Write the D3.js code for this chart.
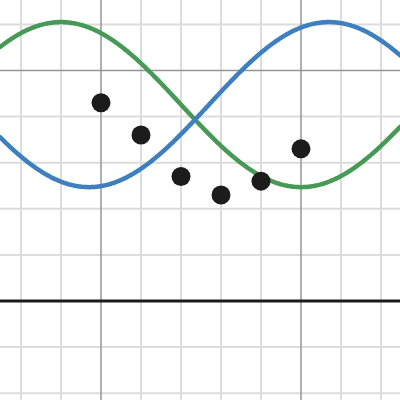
<!DOCTYPE html>
<html>
<head>
<meta charset="utf-8">
<script src="https://cdn.jsdelivr.net/npm/d3@7"></script>
<style>
  html, body { margin: 0; padding: 0; background: #fff; }
  svg { display: block; }
</style>
</head>
<body>
<svg id="canvas"></svg>
<script>
// data
const pointX = [5, 6, 7, 8, 9, 10];
const pointY = [4.3, 3.6, 2.7, 2.3, 2.6, 3.3];

// the two sine curves: centre, amplitude, x of peak, period
const curveNames = ["green", "blue"];
const curveCentre = [4.26, 4.26];
const curveAmp = [1.79, 1.79];
const curvePeak = [4, 10.7];
const curvePeriod = [12, 12];
const curveColor = ["#479a56", "#3e7fbf"];

const width = 400;
const height = 400;

let canvas = d3.select("#canvas").attr("width", width).attr("height", height);

let x = d3.scaleLinear().domain([2.475, 12.475]).range([0, width]);
let y = d3.scaleLinear().domain([-2.147, 6.529]).range([height, 0]);

let drawGrid = () => {
  let xs = d3.range(Math.ceil(x.domain()[0]), Math.floor(x.domain()[1]) + 1);
  let ys = d3.range(Math.ceil(y.domain()[0]), Math.floor(y.domain()[1]) + 1);

  // minor lines first, major on top
  canvas.append("g").selectAll("line")
    .data(xs.filter((d) => d % 5 !== 0))
    .enter().append("line")
    .attr("x1", (d) => x(d)).attr("x2", (d) => x(d))
    .attr("y1", 0).attr("y2", height)
    .attr("stroke", "#dcdcdc").attr("stroke-width", 2);

  canvas.append("g").selectAll("line")
    .data(ys.filter((d) => d % 5 !== 0))
    .enter().append("line")
    .attr("y1", (d) => y(d)).attr("y2", (d) => y(d))
    .attr("x1", 0).attr("x2", width)
    .attr("stroke", "#dcdcdc").attr("stroke-width", 2);

  canvas.append("g").selectAll("line")
    .data(xs.filter((d) => d % 5 === 0 && d !== 0))
    .enter().append("line")
    .attr("x1", (d) => x(d)).attr("x2", (d) => x(d))
    .attr("y1", 0).attr("y2", height)
    .attr("stroke", "#969696").attr("stroke-width", 1.5);

  canvas.append("g").selectAll("line")
    .data(ys.filter((d) => d % 5 === 0 && d !== 0))
    .enter().append("line")
    .attr("y1", (d) => y(d)).attr("y2", (d) => y(d))
    .attr("x1", 0).attr("x2", width)
    .attr("stroke", "#969696").attr("stroke-width", 1.5);

  // x axis
  canvas.append("line")
    .attr("x1", 0).attr("x2", width)
    .attr("y1", y(0)).attr("y2", y(0))
    .attr("stroke", "#1a1a1a").attr("stroke-width", 3);
};

let drawCurves = () => {
  let samples = d3.range(0, 401).map((i) => x.invert(i));
  let line = d3.line().x((d) => x(d[0])).y((d) => y(d[1]));

  curveNames.forEach((name, i) => {
    let pts = samples.map((t) => [
      t,
      curveCentre[i] + curveAmp[i] * Math.cos((2 * Math.PI * (t - curvePeak[i])) / curvePeriod[i])
    ]);
    canvas.append("path")
      .attr("class", "curve " + name)
      .attr("d", line(pts))
      .attr("fill", "none")
      .attr("stroke", curveColor[i])
      .attr("stroke-width", 4.5)
      .attr("stroke-linecap", "round");
  });
};

let drawPoints = () => {
  canvas.append("g").selectAll("circle")
    .data(pointX.map((d, i) => [d, pointY[i]]))
    .enter().append("circle")
    .attr("cx", (d) => x(d[0]))
    .attr("cy", (d) => y(d[1]))
    .attr("r", 9.5)
    .attr("fill", "#1c1c1c");
};

drawGrid();
drawCurves();
drawPoints();
</script>
</body>
</html>
